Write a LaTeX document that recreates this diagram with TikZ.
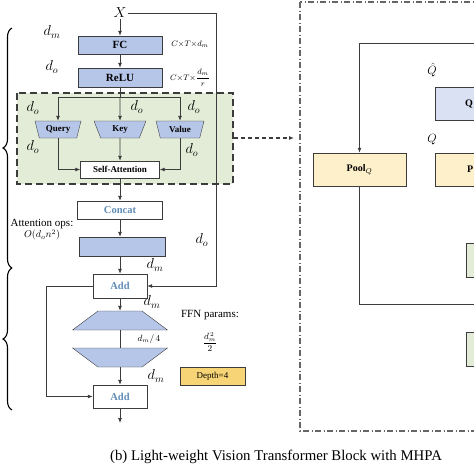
\documentclass[tikz,border=0pt]{standalone}
\usepackage{fontspec}
\setmainfont{Liberation Serif}
\usetikzlibrary{shapes.geometric,arrows.meta,decorations.pathreplacing}
\definecolor{boxblue}{RGB}{182,198,232}
\definecolor{lightblue}{RGB}{218,225,243}
\definecolor{attngreen}{RGB}{226,236,214}
\definecolor{poolyellow}{RGB}{253,240,202}
\definecolor{depthgold}{RGB}{247,213,118}
\definecolor{addtext}{RGB}{96,140,182}
\definecolor{edge}{RGB}{60,60,60}

\begin{document}
\begin{tikzpicture}
    [x=1pt, y=-1pt, >={Latex[length=5pt,width=4pt]},
     every node/.style={inner sep=1pt},
     blk/.style={draw=edge, fill=boxblue, font=\bfseries\fontsize{11}{12}\selectfont, minimum width=84pt, minimum height=18pt},
     wbox/.style={draw=edge, fill=white, text=addtext, font=\bfseries\fontsize{10.5}{12}\selectfont},
     trap/.style={draw=edge, fill=boxblue, shape=trapezium, trapezium stretches=true, font=\bfseries\fontsize{9}{10}\selectfont},
     dlbl/.style={font=\fontsize{14}{15}\selectfont},
     note/.style={font=\fontsize{11}{12}\selectfont},
     pool/.style={draw=edge, fill=poolyellow, minimum width=93pt, minimum height=33pt, font=\bfseries\fontsize{10}{12}\selectfont},
     link/.style={draw=edge, line width=0.8pt}]
    \useasboundingbox (0,0) rectangle (474,474);
    \clip (0,0) rectangle (474,474);

    % attention block and panel
    \draw[fill=attngreen, draw=edge, line width=1.2pt, dash pattern=on 7pt off 4pt] (17,93) rectangle (233,184);
    \draw[gray!80!black, line width=1.1pt, dash pattern=on 6pt off 2.5pt on 1pt off 2.5pt] (300,2) rectangle (490,431);

    \node[dlbl] (x) at (120,13) {$X$};
    \node[blk] (fc) at (120,45) {FC};
    \node[blk, minimum height=19pt] (relu) at (120,77.5) {ReLU};
    \node[trap, shape border rotate=180, trapezium angle=73, minimum width=46pt, minimum height=17pt] (query) at (58,129.5) {Query};
    \node[trap, shape border rotate=180, trapezium angle=73, minimum width=52pt, minimum height=17pt] (key) at (120,129.5) {Key};
    \node[trap, shape border rotate=180, trapezium angle=73, minimum width=48pt, minimum height=17pt] (value) at (180,129.5) {Value};
    \node[wbox, text=black, font=\bfseries\fontsize{9}{10}\selectfont, minimum width=79pt, minimum height=17pt] (sa) at (120,169.5) {Self-Attention};
    \node[wbox, minimum width=85pt, minimum height=18pt] (concat) at (120,210) {Concat};
    \node[blk, minimum width=86pt, minimum height=19pt] (proj) at (122,246.5) {};
    \node[wbox, minimum width=54pt, minimum height=24pt] (add1) at (120,286) {Add};
    \node[trap, trapezium angle=60, minimum width=95pt, minimum height=19pt] (ffn1) at (120,320.5) {};
    \node[trap, shape border rotate=180, trapezium angle=60, minimum width=95pt, minimum height=19pt] (ffn2) at (120,357.5) {};
    \node[wbox, minimum width=54pt, minimum height=23pt] (add2) at (120,396.5) {Add};
    \node[draw=edge, fill=depthgold, minimum width=65pt, minimum height=18pt, font=\fontsize{9}{10}\selectfont] (depth) at (212.5,376) {Depth=4};

    \coordinate (split) at (120,97);
    \coordinate (skip) at (216,286);
    \coordinate (res) at (46,286);
    \coordinate (out) at (120,423);

    \draw[link,->] (x) -- (fc);
    \draw[link,->] (fc) -- (relu);
    \draw[link] (relu) -- (split);
    \draw[link,->] (split) -- (key);
    \draw[link,->] (split) -| (query);
    \draw[link,->] (split) -| (value);
    \draw[link,->] (query) |- (sa);
    \draw[link,->] (value) |- (sa);
    \draw[link,->] (key) -- (sa);
    \draw[link,->] (sa) -- (concat);
    \draw[link,->] (concat) -- (concat |- proj.north);
    \draw[link,->] (proj.south -| add1) -- (add1);
    \draw[link,->] (x) -| (skip) -- (add1);
    \draw[link,->] (add1) -- (res) |- (add2);
    \draw[link,->] (add1) -- (ffn1);
    \draw[link] (ffn1) -- (ffn2);
    \draw[link,->] (ffn2) -- (add2);
    \draw[link,->] (add2) -- (out);

    % dimension labels
    \node[dlbl] (dm0) at (52,32) {$d_m$};
    \node[dlbl] (do0) at (52,67) {$d_o$};
    \node[font=\fontsize{8.5}{9}\selectfont] (shape1) at (190,44) {$C{\times}T{\times}d_m$};
    \node[font=\fontsize{8.5}{9}\selectfont] (shape2) at (190,78) {$C{\times}T{\times}\displaystyle\frac{d_m}{r}$};
    \node[dlbl] (doq) at (33,108) {$d_o$};
    \node[dlbl] (dok) at (137,107) {$d_o$};
    \node[dlbl] (dov) at (194,107) {$d_o$};
    \node[dlbl] (doq2) at (33,147) {$d_o$};
    \node[dlbl] (dov2) at (192,150) {$d_o$};
    \node[note] (ops) at (42,224) {Attention ops:};
    \node[font=\fontsize{10}{11}\selectfont] (opsval) at (42,235) {$O(d_o n^2)$};
    \node[dlbl] (doskip) at (202,240) {$d_o$};
    \node[dlbl] (dm1) at (155,265) {$d_m$};
    \node[dlbl] (dm2) at (152,302) {$d_m$};
    \node[font=\fontsize{9}{10}\selectfont] (dm4) at (149,339) {$d_m/\,4$};
    \node[dlbl] (dm3) at (156,376) {$d_m$};
    \node[note] (ffnp) at (210,315) {FFN params:};
    \node[font=\fontsize{9}{10}\selectfont] (ffnval) at (210,342) {$\displaystyle\frac{d_m^{\,2}}{2}$};

    % braces
    \draw[decorate, decoration={brace, amplitude=9pt}, line width=1.1pt] (12,268) -- (12,28);
    \draw[decorate, decoration={brace, amplitude=9pt}, line width=1.1pt] (12,410) -- (12,268);

    % pooling attention panel
    \coordinate (attnout) at (234,138);
    \coordinate (panelin) at (294,138);
    \draw[link, line width=1.2pt, dash pattern=on 4pt off 3pt, ->] (attnout) -- (panelin);
    \node[pool] (poolq) at (359.5,169.5) {Pool$_Q$};
    \node[pool, anchor=west] (poolk) at (435,169.5) {};
    \node[font=\bfseries\fontsize{10}{12}\selectfont, anchor=west] (poolklbl) at (466,169.5) {P};
    \node[pool, fill=lightblue, anchor=west] (qproj) at (435,103.5) {};
    \node[font=\bfseries\fontsize{10}{12}\selectfont, anchor=west] (qprojlbl) at (464,103.5) {Q};
    \node[draw=edge, fill=attngreen, minimum width=60pt, minimum height=34pt, anchor=west] (g1) at (466,260) {};
    \node[draw=edge, fill=attngreen, minimum width=60pt, minimum height=34pt, anchor=west] (g2) at (466,349) {};
    \node[font=\fontsize{13}{14}\selectfont] (qhat) at (432,70) {$\hat{Q}$};
    \node[font=\fontsize{13}{14}\selectfont] (qlbl) at (432,140) {$Q$};
    \coordinate (qtop) at (490,43);
    \coordinate (qbot) at (490,304);
    \draw[link,->] (qtop) -| (poolq);
    \draw[link] (poolq) |- (qbot);

    \node[font=\fontsize{14.8}{16}\selectfont] (cap) at (276,457) {(b) Light-weight Vision Transformer Block with MHPA};
\end{tikzpicture}
\end{document}
